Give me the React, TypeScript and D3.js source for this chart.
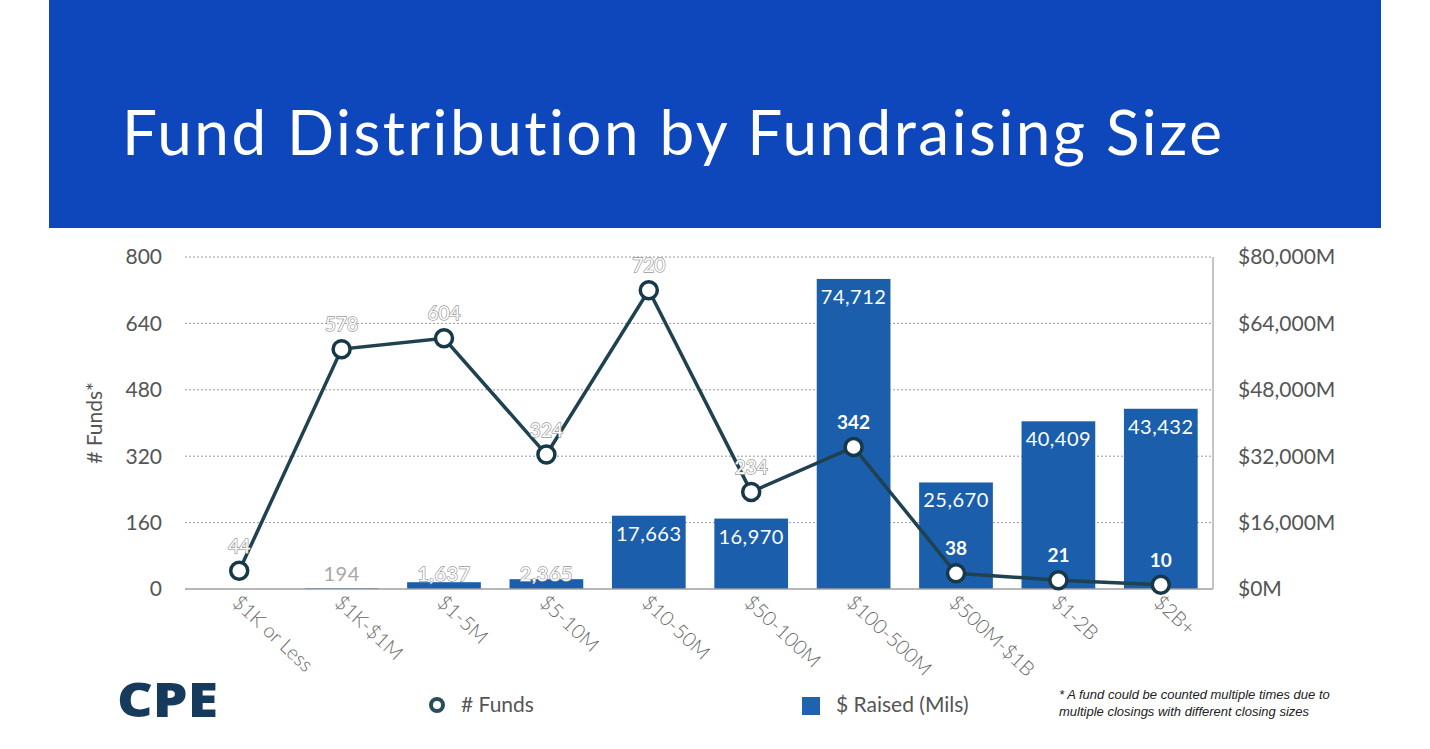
import React, { useRef, useEffect } from "react";
import * as d3 from "d3";

const categories = ["$1K or Less", "$1K-$1M", "$1-5M", "$5-10M", "$10-50M", "$50-100M", "$100-500M", "$500M-$1B", "$1-2B", "$2B+"];
const funds = [44, 578, 604, 324, 720, 234, 342, 38, 21, 10];
const raised = [0, 194, 1637, 2365, 17663, 16970, 74712, 25670, 40409, 43432];
const leftTicks = [0, 160, 320, 480, 640, 800];
const rightTicks = [0, 16000, 32000, 48000, 64000, 80000];

const App = () => {
	const chartRef = useRef<SVGSVGElement>(null);

	useEffect(() => {
		const width = 1430;
		const height = 749;
		const margin = { top: 257, right: 1430 - 1213, bottom: 749 - 589, left: 185 };

		const svg = d3.select(chartRef.current);
		svg.selectAll("*").remove();
		svg.attr("width", width).attr("height", height);

		// banner
		svg.append("rect")
			.attr("x", 49).attr("y", 0)
			.attr("width", 1332).attr("height", 228)
			.attr("fill", "#0e47bc");
		svg.append("text")
			.attr("x", 122).attr("y", 155)
			.attr("fill", "#fff")
			.attr("font-family", "Lato, sans-serif")
			.attr("font-size", 62)
			.attr("letter-spacing", 2.5)
			.text("Fund Distribution by Fundraising Size");

		const x = d3.scaleBand()
			.domain(categories)
			.range([188, 1212])
			.paddingInner(0.28)
			.paddingOuter(0.14);

		const yLeft = d3.scaleLinear().domain([0, 800]).range([height - margin.bottom, margin.top]);
		const yRight = d3.scaleLinear().domain([0, 80000]).range([height - margin.bottom, margin.top]);

		const x0 = margin.left;
		const x1 = width - margin.right;
		const font = "Lato, 'Open Sans', sans-serif";

		// gridlines
		svg.append("g")
			.selectAll("line")
			.data(leftTicks.slice(1))
			.enter()
			.append("line")
			.attr("x1", x0).attr("x2", x1)
			.attr("y1", d => yLeft(d)).attr("y2", d => yLeft(d))
			.attr("stroke", "#9a9a9a")
			.attr("stroke-width", 1)
			.attr("stroke-dasharray", "2,2");

		// left ticks
		svg.append("g")
			.selectAll("text")
			.data(leftTicks)
			.enter()
			.append("text")
			.attr("x", 162)
			.attr("y", d => yLeft(d))
			.attr("dy", "0.35em")
			.attr("text-anchor", "end")
			.attr("fill", "#555")
			.attr("font-family", font)
			.attr("font-size", 21)
			.text(d => d);

		// right ticks
		svg.append("g")
			.selectAll("text")
			.data(rightTicks)
			.enter()
			.append("text")
			.attr("x", 1238)
			.attr("y", d => yRight(d))
			.attr("dy", "0.35em")
			.attr("fill", "#555")
			.attr("font-family", font)
			.attr("font-size", 21)
			.text(d => "$" + d3.format(",")(d) + "M");

		svg.append("text")
			.attr("transform", `translate(102, ${yLeft(400)}) rotate(-90)`)
			.attr("text-anchor", "middle")
			.attr("fill", "#555")
			.attr("font-family", font)
			.attr("font-size", 21)
			.text("# Funds*");

		// bars
		svg.append("g")
			.selectAll("rect")
			.data(raised)
			.enter()
			.append("rect")
			.attr("x", (d, i) => x(categories[i])!)
			.attr("width", x.bandwidth())
			.attr("y", d => yRight(d))
			.attr("height", d => yRight(0) - yRight(d))
			.attr("fill", "#1b5eab");

		// axes lines
		svg.append("line")
			.attr("x1", x0).attr("x2", x1)
			.attr("y1", yLeft(0)).attr("y2", yLeft(0))
			.attr("stroke", "#a0a0a0").attr("stroke-width", 1.5);
		svg.append("line")
			.attr("x1", x1).attr("x2", x1)
			.attr("y1", margin.top).attr("y2", yLeft(0))
			.attr("stroke", "#b0b0b0").attr("stroke-width", 1.5);

		// bar labels
		svg.append("g")
			.selectAll("text")
			.data(raised.map((v, i) => ({ v, i })).filter(d => d.v > 0))
			.enter()
			.append("text")
			.attr("x", d => x(categories[d.i])! + x.bandwidth() / 2)
			.attr("y", d => d.v > 10000 ? yRight(d.v) + 25 : yRight(0) - 8)
			.attr("text-anchor", "middle")
			.attr("font-family", font)
			.attr("font-size", 20)
			.attr("letter-spacing", 0.5)
			.attr("fill", d => d.v > 10000 ? "#fff" : d.v < 1000 ? "#a8a8a8" : "#fff")
			.attr("stroke", d => d.v > 1000 && d.v < 10000 ? "#999" : "none")
			.attr("stroke-width", 1.4)
			.attr("paint-order", "stroke")
			.text(d => d3.format(",")(d.v));

		// line
		const cx = (i: number) => x(categories[i])! + x.bandwidth() / 2;
		const line = d3.line<number>()
			.x((d, i) => cx(i))
			.y(d => yLeft(d));

		svg.append("path")
			.datum(funds)
			.attr("d", line)
			.attr("fill", "none")
			.attr("stroke", "#1f4150")
			.attr("stroke-width", 3.5);

		svg.append("g")
			.selectAll("circle")
			.data(funds)
			.enter()
			.append("circle")
			.attr("cx", (d, i) => cx(i))
			.attr("cy", d => yLeft(d))
			.attr("r", 8.5)
			.attr("fill", "#fff")
			.attr("stroke", "#163848")
			.attr("stroke-width", 3.5);

		// line labels: white bold when sitting on a bar, outlined otherwise
		const onBar = (d: number, i: number) => yLeft(d) - 19 > yRight(raised[i]) + 20;
		svg.append("g")
			.selectAll("text")
			.data(funds)
			.enter()
			.append("text")
			.attr("x", (d, i) => cx(i))
			.attr("y", d => yLeft(d) - 18)
			.attr("text-anchor", "middle")
			.attr("font-family", font)
			.attr("font-size", 19)
			.attr("font-weight", (d, i) => onBar(d, i) ? 700 : 400)
			.attr("fill", "#fff")
			.attr("stroke", (d, i) => onBar(d, i) ? "none" : "#999")
			.attr("stroke-width", 1.4)
			.attr("paint-order", "stroke")
			.text(d => d);

		// x labels
		svg.append("g")
			.selectAll("text")
			.data(categories)
			.enter()
			.append("text")
			.attr("transform", d => `translate(${x(d)! + x.bandwidth() / 2 - 8}, ${yLeft(0) + 15}) rotate(43)`)
			.attr("fill", "#6a6a6a")
			.attr("font-family", font)
			.attr("font-weight", 300)
			.attr("font-size", 20)
			.text(d => d);

		// logo
		svg.append("text")
			.attr("transform", "translate(117, 717) scale(1.15, 1)")
			.attr("fill", "#153a5c")
			.attr("font-family", "'Open Sans', sans-serif")
			.attr("font-weight", 800)
			.attr("font-size", 48)
			.text("CPE");

		// legend
		svg.append("circle")
			.attr("cx", 437).attr("cy", 705).attr("r", 6)
			.attr("fill", "#fff").attr("stroke", "#2a4d5c").attr("stroke-width", 4);
		svg.append("text")
			.attr("x", 461).attr("y", 712)
			.attr("fill", "#555").attr("font-family", font).attr("font-size", 21)
			.text("# Funds");
		svg.append("rect")
			.attr("x", 802).attr("y", 697).attr("width", 18).attr("height", 18)
			.attr("fill", "#1f63b0");
		svg.append("text")
			.attr("x", 836).attr("y", 712)
			.attr("fill", "#555").attr("font-family", font).attr("font-size", 21)
			.text("$ Raised (Mils)");

		// footnote
		const note = svg.append("text")
			.attr("fill", "#222")
			.attr("font-family", "'Liberation Sans Narrow', 'Arial Narrow', sans-serif")
			.attr("font-style", "italic")
			.attr("font-size", 13);
		note.append("tspan").attr("x", 1059).attr("y", 699).text("* A fund could be counted multiple times due to");
		note.append("tspan").attr("x", 1059).attr("y", 716).text("multiple closings with different closing sizes");
	}, []);

	return <svg ref={chartRef} style={{ position: "absolute", left: 0, top: 0, display: "block" }}></svg>;
};

export default App;
